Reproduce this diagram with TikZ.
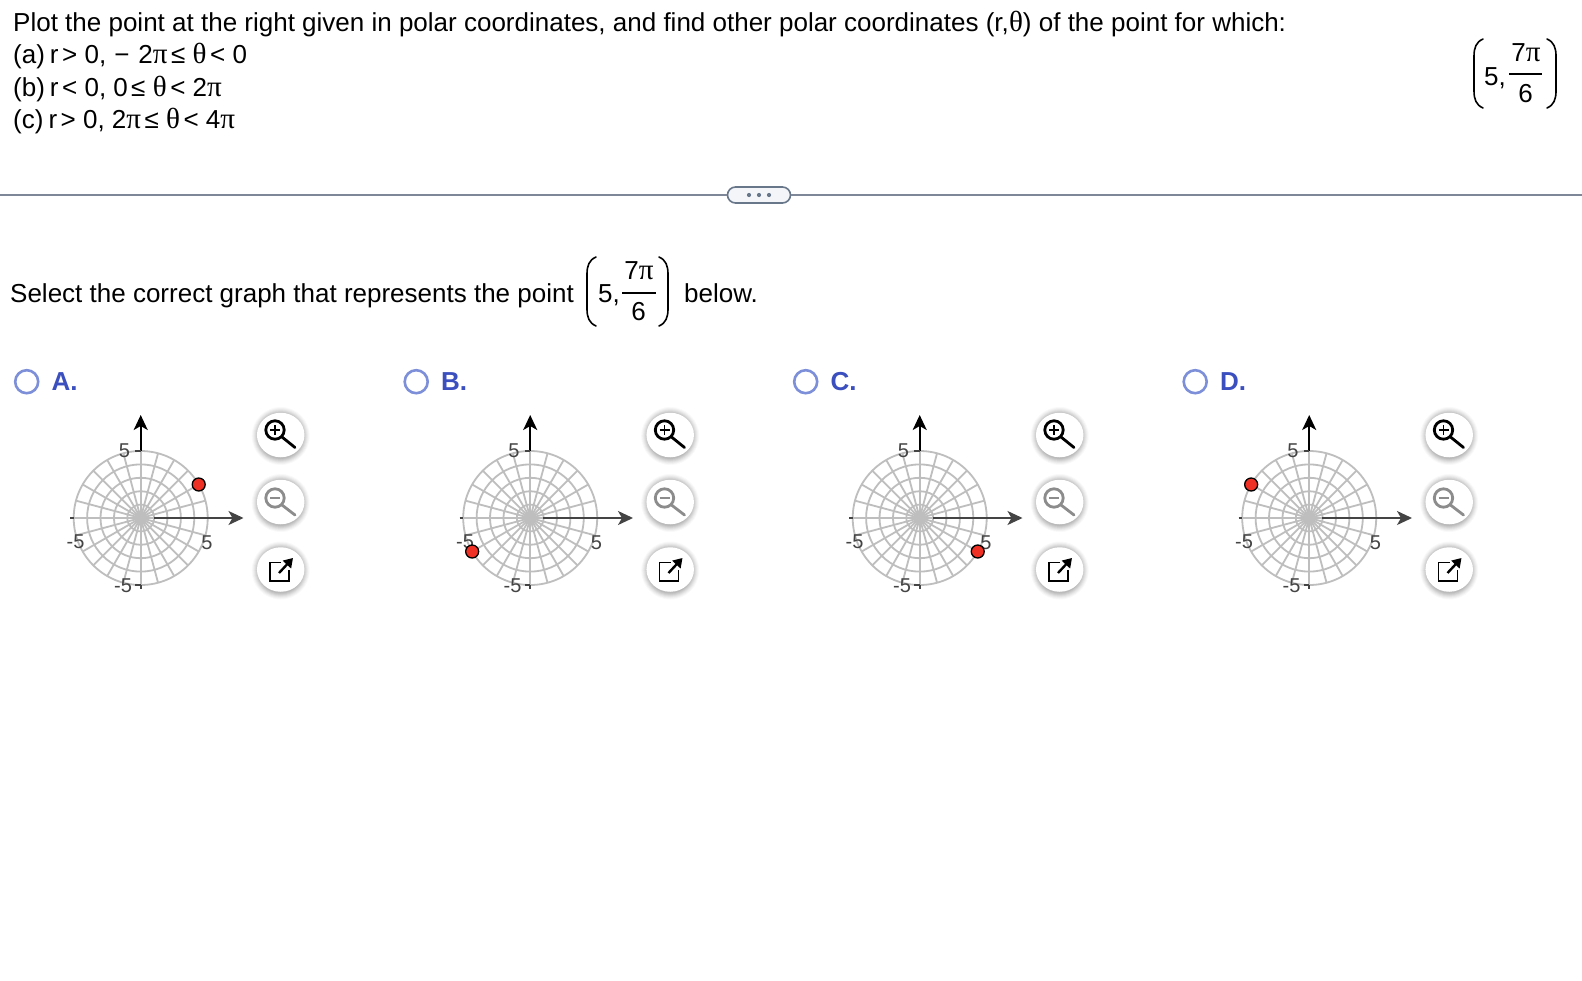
\documentclass[tikz,border=0pt]{standalone}
\usepackage{fontspec}
\setmainfont{Liberation Sans}
\newfontfamily\greekfont[Scale=1.12]{Liberation Serif}
\usetikzlibrary{arrows.meta, shapes.geometric}
\definecolor{gridgray}{HTML}{BEBEBE}
\definecolor{axisdark}{HTML}{444444}
\definecolor{optblue}{HTML}{3B4FBE}
\definecolor{ringblue}{HTML}{7C8FD8}
\definecolor{rulegray}{HTML}{7D8798}
\definecolor{pilledge}{HTML}{69778A}
\definecolor{pillfill}{HTML}{F3F5F8}
\definecolor{dotred}{HTML}{EE3124}
\newcommand{\gpi}{{\greekfont π}}
\newcommand{\gth}{{\greekfont θ}}
\newcommand{\rel}[1]{\hspace{3.5pt}#1\hspace{7.3pt}}

\begin{document}
\begin{tikzpicture}[x=1pt, y=-1pt,
    txt/.style={anchor=base west, inner sep=0pt, font=\fontsize{26}{26}\selectfont},
    frac/.style={anchor=base, inner sep=0pt, font=\fontsize{26}{26}\selectfont},
    tick/.style={inner sep=0pt, text=axisdark, font=\fontsize{20}{20}\selectfont},
    grid/.style={draw=gridgray, line width=1.8pt},
    paren/.style={line width=1.6pt, line cap=round},
    optring/.style={draw=ringblue, line width=2.6pt, circle, minimum size=23pt, inner sep=0pt},
    optlbl/.style={anchor=base west, inner sep=0pt, text=optblue, font=\fontsize{26}{26}\selectfont\bfseries},
    btn/.style={fill=white, ellipse, minimum width=47.5pt, minimum height=44.5pt, inner sep=0pt},
    icn/.style={line width=2.8pt, line cap=round}]
    \useasboundingbox (0,0) rectangle (1582,980);
    \fill[white] (0,0) rectangle (1582,980);
    % question
    \node[txt] (head) at (13,31) {Plot the point at the right given in polar coordinates, and find other polar coordinates (r,\gth) of the point for which:};
    \node[txt] (parta) at (13,63) {(a)\hspace{5pt}r\rel{>}0,\hspace{8pt}−\hspace{9pt}2\gpi\rel{≤}\gth\rel{<}0};
    \node[txt] (partb) at (13,96) {(b)\hspace{5pt}r\rel{<}0,\hspace{7pt}0\rel{≤}\gth\rel{<}2\gpi};
    \node[txt] (partc) at (13,128.5) {(c)\hspace{5pt}r\rel{>}0,\hspace{7pt}2\gpi\rel{≤}\gth\rel{<}4\gpi};
    % point at the right
    \node[txt] (five) at (1484,85) {5,};
    \node[frac] (num) at (1526,61) {7\gpi};
    \node[frac] (den) at (1525.5,102) {6};
    \coordinate (bara) at (1509,74);
    \coordinate (barb) at (1542,74);
    \draw[line width=1.5pt] (bara) -- (barb);
    \draw[paren] (1483,39) .. controls (1476,42) and (1474,48) .. (1474,56) -- (1474,91) .. controls (1474,99) and (1476,105) .. (1483,108);
    \draw[paren] (1547,39) .. controls (1554,42) and (1556,48) .. (1556,56) -- (1556,91) .. controls (1556,99) and (1554,105) .. (1547,108);
    % rule
    \node[draw=pilledge, fill=pillfill, line width=1.6pt, rounded corners=8pt, minimum width=63pt, minimum height=16pt, inner sep=0pt] (pill) at (759,195) {};
    \coordinate (rulea) at (0,195);
    \coordinate (ruleb) at (1582,195);
    \draw[rulegray, line width=1.4pt] (rulea) -- (pill.west);
    \draw[rulegray, line width=1.4pt] (pill.east) -- (ruleb);
    \foreach \i in {-10,0,10}
        \fill[pilledge] (759+\i,195) circle (2.1);
    % prompt
    \node[txt] (select) at (10,302.5) {Select the correct graph that represents the point};
    \node[txt] (fivetwo) at (598,302.5) {5,};
    \node[frac] (numtwo) at (639,279) {7\gpi};
    \node[frac] (dentwo) at (638.5,320) {6};
    \coordinate (barc) at (622,293);
    \coordinate (bard) at (656,293);
    \draw[line width=1.5pt] (barc) -- (bard);
    \draw[paren] (596,257) .. controls (589,260) and (587,266) .. (587,274) -- (587,309) .. controls (587,317) and (589,323) .. (596,326);
    \draw[paren] (659,257) .. controls (666,260) and (668,266) .. (668,274) -- (668,309) .. controls (668,317) and (666,323) .. (659,326);
    \node[txt] (below) at (684,302.5) {below.};
    % options
    \foreach \px/\lbl/\ang in {0/A/30, 389.5/B/210, 779/C/330, 1168.5/D/150} {
        \begin{scope}[shift={(\px,0)}]
            \node[optring] (ring\lbl) at (26.7,381.7) {};
            \node[optlbl] (opt\lbl) at (51.5,390) {\lbl.};
            % graph
            \coordinate (o) at (140.7,518);
            \foreach \r in {13.4,26.8,40.2,53.6,67}
                \draw[grid] (o) circle (\r);
            \coordinate (xa) at (70,518);
            \coordinate (xb) at (243.5,518);
            \draw[axisdark, line width=1.6pt, -{Stealth[length=15pt,width=14pt,inset=4pt]}] (xa) -- (xb);
            \foreach \a in {15,30,...,345}
                \draw[grid] (o) -- ++(\a:67 and -67);
            \fill[gridgray] (o) circle (6);
            \draw[grid] (o) -- ++(-13,0) (o) -- ++(13,0);
            \coordinate (ya) at (140.7,451);
            \coordinate (yb) at (140.7,415);
            \draw[black, line width=2pt, -{Stealth[length=15pt,width=14pt,inset=4pt]}] (ya) -- (yb);
            \draw[axisdark, line width=1.6pt] (140.7,585) -- (140.7,589) (135,451) -- (140.7,451) (135,585) -- (140.7,585);
            \node[tick] (top\lbl) at (124.5,451) {5};
            \node[tick] (left\lbl) at (75.5,542) {-5};
            \node[tick] (right\lbl) at (207,543) {5};
            \node[tick] (bot\lbl) at (123,586) {-5};
            \fill[dotred, draw=black, line width=1.3pt] (o) ++(\ang:67 and -67) circle (6.5);
            % zoom buttons
            \foreach \by in {435,502,569.5} {
                \foreach \s/\o in {29/0.025,28/0.03,27/0.035,26/0.04,25/0.05,24/0.05,23/0.06}
                    \fill[black, opacity=\o] (280.7,\by+1) circle (\s);
            }
            \node[btn] (plus\lbl) at (280.7,435) {};
            \node[btn] (minus\lbl) at (280.7,502) {};
            \node[btn] (link\lbl) at (280.7,569.5) {};
            \draw[icn] (275,430) circle (9.2) (282,437) -- (295,447.5);
            \draw[line width=1.6pt] (270,430) -- (280,430) (275,425) -- (275,435);
            \begin{scope}[gray!90]
                \draw[icn] (275,498) circle (9.2) (282,505) -- (295,515);
                \draw[line width=1.6pt] (270,498) -- (280,498);
            \end{scope}
            \draw[line width=1.8pt] (281,562.5) -- (270,562.5) -- (270,581) -- (289,581) -- (289,570);
            \draw[line width=2.4pt, -{Stealth[length=9pt,width=11pt,inset=0pt]}] (279,573) -- (293,558);
        \end{scope}
    }
\end{tikzpicture}
\end{document}
